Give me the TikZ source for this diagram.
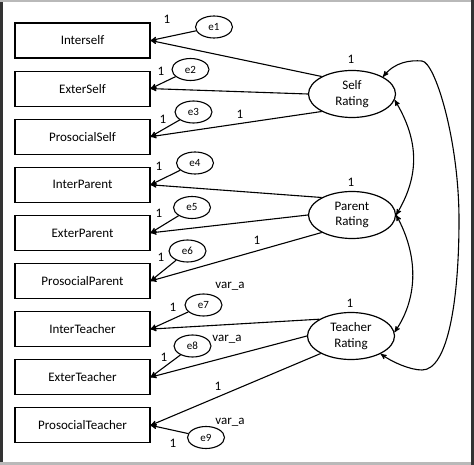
\documentclass[tikz,border=0pt]{standalone}
\usepackage{fontspec}
\setmainfont{Carlito}
\usetikzlibrary{arrows,shapes.geometric}

\tikzset{
  obs/.style={draw,line width=1.1pt,minimum width=135pt,minimum height=35pt,inner sep=0pt,font=\fontsize{13}{15.6}\selectfont},
  err/.style={draw,ellipse,line width=1.1pt,minimum width=37pt,minimum height=22pt,inner sep=0pt,font=\fontsize{11}{13}\selectfont},
  lat/.style={draw,ellipse,line width=1.2pt,minimum width=87pt,minimum height=47pt,inner sep=0pt,align=center,font=\fontsize{13}{15.6}\selectfont},
  lbl/.style={inner sep=0pt,font=\fontsize{13}{15.6}\selectfont},
  ld/.style={->,>=stealth',line width=1.1pt},
  cv/.style={<->,>=stealth',line width=1.1pt}
}

\begin{document}
\begin{tikzpicture}[x=1pt,y=-1pt]
\useasboundingbox (0,0) rectangle (474,465);

% frame
\fill[gray!55] (0,0) rectangle (474,2.5);
\fill[gray!55] (0,462) rectangle (474,465);
\draw[line width=2.5pt,black!80] (1.5,2.5)--(1.5,462);
\draw[line width=2.5pt,black!80] (472.5,0)--(472.5,465);

% observed
\node[obs] (b1) at (82.5,40.5) {Interself};
\node[obs] (b2) at (82.5,88.6) {ExterSelf};
\node[obs] (b3) at (82.5,136.7) {ProsocialSelf};
\node[obs] (b4) at (82.5,184.8) {InterParent};
\node[obs] (b5) at (82.5,232.9) {ExterParent};
\node[obs] (b6) at (82.5,281) {ProsocialParent};
\node[obs] (b7) at (82.5,329.1) {InterTeacher};
\node[obs] (b8) at (82.5,377.2) {ExterTeacher};
\node[obs] (b9) at (82.5,425.3) {ProsocialTeacher};

% errors
\node[err] (e1) at (214,27) {e1};
\node[err] (e2) at (190.5,69.5) {e2};
\node[err] (e3) at (193.5,112) {e3};
\node[err] (e4) at (195,163) {e4};
\node[err] (e5) at (192,207.5) {e5};
\node[err] (e6) at (187.5,251) {e6};
\node[err] (e7) at (203.5,305) {e7};
\node[err] (e8) at (192.5,346) {e8};
\node[err] (e9) at (206,437.5) {e9};

% latent
\node[lat] (self) at (352,94) {Self\\Rating};
\node[lat] (parent) at (352,215) {Parent\\Rating};
\node[lat] (teacher) at (351,336) {Teacher\\Rating};

% loadings
\draw[ld] (self.150)--(b1.east);
\draw[ld] (self.west)--(b2.east);
\draw[ld] (self.210)--(b3.east);
\draw[ld] (parent.150)--(b4.east);
\draw[ld] (parent.west)--(b5.east);
\draw[ld] (parent.210)--(b6.east);
\draw[ld] (teacher.152)--(b7.east);
\draw[ld] (teacher.west)--(b8.east);
\draw[ld] (teacher.210)--(b9.east);

\foreach \i in {1,...,9}
  \draw[ld] (e\i)--(b\i.east);

% labels
\node[lbl] (w1) at (167,19) {1};
\node[lbl] (w2) at (161,71) {1};
\node[lbl] (w3) at (163,119) {1};
\node[lbl] (w4) at (159,166) {1};
\node[lbl] (w5) at (159,213) {1};
\node[lbl] (w6) at (161,257) {1};
\node[lbl] (w7) at (173,307) {1};
\node[lbl] (w8) at (164,357) {1};
\node[lbl] (w9) at (173,443) {1};
\node[lbl] (fs1) at (351,59) {1};
\node[lbl] (fs3) at (240,114) {1};
\node[lbl] (fp1) at (351,182) {1};
\node[lbl] (fp3) at (257,240) {1};
\node[lbl] (ft1) at (350,303) {1};
\node[lbl] (ft3) at (218,386) {1};
\node[lbl] (v7) at (230,286) {var\_a};
\node[lbl] (v8) at (227,339) {var\_a};
\node[lbl] (v9) at (230,422) {var\_a};

% covariances
\draw[cv] (self.-8) .. controls +(24,40) and +(24,-40) .. (parent.east);
\draw[cv] (parent.east) .. controls +(22,40) and +(24,-35) .. (teacher.5);
\draw[cv] (self.29) .. controls (395,62) and (410,60) .. (422,61)
  .. controls (435,62) and (459,140) .. (459,220)
  .. controls (459,300) and (448,370) .. (422,370)
  .. controls (410,370) and (392,362) .. (teacher.-31);
\end{tikzpicture}
\end{document}
